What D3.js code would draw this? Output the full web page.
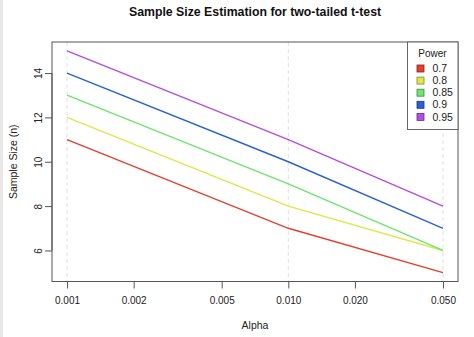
<!DOCTYPE html>
<html><head><meta charset="utf-8">
<script src="https://cdn.jsdelivr.net/npm/d3@7"></script>
<style>body{margin:0;background:#fff;} svg{display:block;font-family:"Liberation Sans",Arial,sans-serif;}</style>
</head><body>
<svg id="c" width="474" height="337"></svg>
<script>
const alphas = [0.001, 0.01, 0.05];
const powers = ["0.7", "0.8", "0.85", "0.9", "0.95"];
const sizes = [
  [11, 7, 5],
  [12, 8, 6],
  [13, 9, 6],
  [14, 10, 7],
  [15, 11, 8]
];
const colors = ["#e2402c", "#dce84a", "#6ee46e", "#2a5fd8", "#b04ee6"];
const xTicks = [0.001, 0.002, 0.005, 0.010, 0.020, 0.050];
const yTicks = [6, 8, 10, 12, 14];

const svg = d3.select("#c");
const L = 52, R = 458, T = 42, B = 281.5;
svg.append("rect").attr("x",0).attr("y",0).attr("width",3).attr("height",337).attr("fill","#e8e8e8");

const lx0 = Math.log10(0.001), lx1 = Math.log10(0.05), px = (lx1-lx0)*0.04;
const x = d3.scaleLog().domain([Math.pow(10, lx0-px), Math.pow(10, lx1+px)]).range([L, R]);
const y = d3.scaleLinear().domain([5-0.4, 15+0.4]).range([B, T]);

// grid
svg.append("g").selectAll("line").data(alphas).join("line")
  .attr("x1", d=>x(d)).attr("x2", d=>x(d)).attr("y1", T).attr("y2", B)
  .attr("stroke", "#e0e0e0").attr("stroke-dasharray", "4,3").attr("stroke-width", 1);

// lines
const line = d3.line().x((d,i)=>x(alphas[i])).y(d=>y(d));
svg.append("g").selectAll("path").data(sizes).join("path")
  .attr("d", d=>line(d)).attr("fill","none").attr("stroke",(d,i)=>colors[i]).attr("stroke-width",1.4);

// box
svg.append("rect").attr("x",L).attr("y",T).attr("width",R-L).attr("height",B-T)
  .attr("fill","none").attr("stroke","#555").attr("stroke-width",1);

// x axis
const xa = svg.append("g").attr("transform",`translate(0,${B})`)
  .call(d3.axisBottom(x).tickValues(xTicks).tickFormat(d3.format(".3f")).tickSize(7).tickPadding(8));
xa.select(".domain").attr("d", `M${x(xTicks[0])},0H${x(xTicks[xTicks.length-1])}`).attr("stroke","#555");
xa.selectAll(".tick line").attr("stroke","#555");
xa.selectAll("text").attr("font-size","10px").attr("fill","#222").attr("font-family","Liberation Sans, Arial, sans-serif");

// y axis
const ya = svg.append("g").attr("transform",`translate(${L},0)`)
  .call(d3.axisLeft(y).tickValues(yTicks).tickSize(7).tickPadding(0));
ya.select(".domain").attr("d", `M0,${y(yTicks[0])}V${y(yTicks[yTicks.length-1])}`).attr("stroke","#555");
ya.selectAll(".tick line").attr("stroke","#555");
ya.selectAll("text").attr("font-size","10px").attr("fill","#222").attr("font-family","Liberation Sans, Arial, sans-serif")
  .attr("x", null).attr("dy", null).attr("text-anchor","middle")
  .attr("transform","translate(-14,0) rotate(-90)").attr("dy","0.35em");

// titles
svg.append("text").attr("x",255).attr("y",16).attr("text-anchor","middle")
  .attr("font-weight","bold").attr("font-size","12.3px").attr("fill","#111").text("Sample Size Estimation for two-tailed t-test");
svg.append("text").attr("x",255).attr("y",329).attr("text-anchor","middle")
  .attr("font-size","10.5px").attr("fill","#222").text("Alpha");
svg.append("text").attr("transform",`translate(17,${(T+B)/2}) rotate(-90)`).attr("text-anchor","middle")
  .attr("font-size","10.5px").attr("fill","#222").text("Sample Size (n)");

// legend
const lg = svg.append("g");
lg.append("rect").attr("x",407.5).attr("y",T).attr("width",R-407.5).attr("height",87.5)
  .attr("fill","#fff").attr("stroke","#666").attr("stroke-width",1);
lg.append("text").attr("x",432.5).attr("y",56.5).attr("text-anchor","middle").attr("font-size","10px").attr("fill","#222").text("Power");
powers.forEach((p,i)=>{
  const cy = 68.5 + i*12.1;
  lg.append("rect").attr("x",417).attr("y",cy-3.5).attr("width",7).attr("height",7)
    .attr("fill",colors[i]).attr("stroke",d3.color(colors[i]).darker(1.5)).attr("stroke-width",0.8);
  lg.append("text").attr("x",432.5).attr("y",cy+3.6).attr("font-size","10.5px").attr("fill","#222").text(p);
});
</script>
</body></html>
